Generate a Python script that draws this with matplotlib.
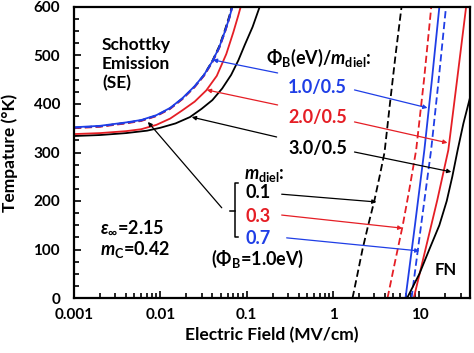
import matplotlib
matplotlib.use("Agg")
import matplotlib.pyplot as plt
import matplotlib.ticker as mticker
from matplotlib.lines import Line2D

W, H = 474, 353
BLUE = "#1f3ee6"
RED = "#e51e25"
BLACK = "#000000"

# Schottky emission branch (field in MV/cm, temperature in K)
SE_E_PHI1 = [0.001, 0.002, 0.004, 0.006, 0.009, 0.013, 0.018, 0.025, 0.032, 0.04, 0.048, 0.056, 0.063, 0.068]
SE_T_PHI1 = [352, 355, 362, 367, 377, 392, 412, 437, 460, 488, 517, 550, 578, 600]
SE_T_PHI1_M01 = [351, 354, 361, 366, 376, 391, 411, 436, 460, 489, 519, 553, 582, 605]
SE_T_PHI1_M03 = [350, 353, 360, 365, 375, 390, 410, 435, 458, 486, 515, 548, 577, 600]
SE_T_PHI1_M07 = [351, 354, 361, 366, 376, 391, 411, 436, 459, 487, 516, 549, 578, 601]

SE_E_PHI2 = [0.001, 0.002, 0.004, 0.006, 0.009, 0.013, 0.018, 0.025, 0.034, 0.045, 0.058, 0.07, 0.08, 0.085]
SE_T_PHI2 = [338, 340, 344, 348, 357, 370, 387, 405, 428, 458, 503, 548, 583, 600]

SE_E_PHI3 = [0.001, 0.002, 0.004, 0.007, 0.01, 0.015, 0.022, 0.03, 0.04, 0.052, 0.066, 0.08, 0.095, 0.117, 0.141]
SE_T_PHI3 = [334, 336, 340, 345, 351, 360, 373, 390, 408, 432, 460, 490, 522, 559, 600]

# Fowler-Nordheim branch
FN_T_M01 = [0, 50, 100, 150, 200, 250, 300, 400, 500, 600]
FN_E_M01 = [1.68, 1.92, 2.19, 2.55, 3.0, 3.45, 3.94, 4.55, 5.28, 6.2]
FN_T_M03 = [0, 75, 150, 225, 305, 450, 600]
FN_E_M03 = [4.27, 5.22, 6.41, 7.66, 9.16, 11.3, 13.7]
FN_T_M07 = [0, 150, 305, 450, 600]
FN_E_M07 = [8.1, 10.45, 13.65, 16.7, 20.3]
FN_T_PHI1 = [0, 150, 305, 450, 600]
FN_E_PHI1 = [6.9, 8.87, 11.4, 13.95, 17.0]
FN_T_PHI2 = [0, 99, 202, 305, 450, 600]
FN_E_PHI2 = [8.6, 11.7, 16.1, 21.6, 27.3, 34.7]
FN_T_PHI3 = [0, 50, 100, 150, 200, 250, 305, 360, 420]
FN_E_PHI3 = [7.2, 10.0, 13.0, 17.0, 20.7, 24.0, 27.7, 32.3, 39.4]

XTICKS = [0.001, 0.01, 0.1, 1, 10]
XTICK_LABELS = ["0.001", "0.01", "0.1", "1", "10"]
YTICKS = [0, 100, 200, 300, 400, 500, 600]

# arrows: (start, end) in data coordinates, colour
ARROWS = [
    ((0.228, 464), (0.0405, 491), BLUE),
    ((1.77, 429), (12.4, 392), BLUE),
    ((0.228, 398), (0.0345, 429), RED),
    ((1.77, 363), (21.1, 320), RED),
    ((0.222, 332), (0.0231, 373), BLACK),
    ((1.77, 301), (23.4, 260), BLACK),
    ((0.254, 214), (3.18, 198), BLACK),
    ((0.254, 171), (6.35, 144), RED),
    ((0.29, 124), (10.0, 97), BLUE),
    ((0.0514, 186), (0.00717, 363), BLACK),
]

plt.rcParams["font.family"] = ["Lato", "DejaVu Sans"]
plt.rcParams["font.weight"] = "bold"
plt.rcParams["mathtext.fontset"] = "custom"
plt.rcParams["mathtext.rm"] = "Lato:bold"
plt.rcParams["mathtext.it"] = "Lato:bold:italic"
plt.rcParams["mathtext.bf"] = "Lato:bold"


def fx(x):
    return x / W


def fy(y):
    return 1 - y / H


def ftext(x, y, s, **kw):
    kw.setdefault("fontsize", 13)
    kw.setdefault("fontweight", "bold")
    kw.setdefault("va", "center")
    fig.text(fx(x), fy(y), s, **kw)


fig = plt.figure(figsize=(W / 100, H / 100), dpi=100)
ax = fig.add_axes([fx(74), fy(298), (470 - 74) / W, (298 - 7) / H])

dash = (0, (4, 2))
lw = 1.3
# SE branches
ax.plot(SE_E_PHI3, SE_T_PHI3, color=BLACK, lw=lw)
ax.plot(SE_E_PHI2, SE_T_PHI2, color=RED, lw=lw)
ax.plot(SE_E_PHI1, SE_T_PHI1_M01, color=BLACK, lw=lw, ls=dash)
ax.plot(SE_E_PHI1, SE_T_PHI1_M03, color=RED, lw=lw, ls=dash)
ax.plot(SE_E_PHI1, SE_T_PHI1, color=BLUE, lw=lw)
ax.plot(SE_E_PHI1, SE_T_PHI1_M07, color=BLUE, lw=lw, ls=dash)
# FN branches
ax.plot(FN_E_M01, FN_T_M01, color=BLACK, lw=lw, ls=dash)
ax.plot(FN_E_M03, FN_T_M03, color=RED, lw=lw, ls=dash)
ax.plot(FN_E_PHI1, FN_T_PHI1, color=BLUE, lw=lw)
ax.plot(FN_E_M07, FN_T_M07, color=BLUE, lw=lw, ls=dash)
ax.plot(FN_E_PHI2, FN_T_PHI2, color=RED, lw=lw)
ax.plot(FN_E_PHI3, FN_T_PHI3, color=BLACK, lw=lw)

ax.set_xscale("log")
ax.set_xlim(0.001, 38.5)
ax.set_ylim(0, 600)
ax.set_xticks(XTICKS)
ax.set_xticklabels(XTICK_LABELS)
ax.xaxis.set_minor_locator(mticker.LogLocator(base=10, subs=range(2, 10)))
ax.xaxis.set_minor_formatter(mticker.NullFormatter())
ax.set_yticks(YTICKS)
ax.yaxis.set_minor_locator(mticker.MultipleLocator(25))
ax.tick_params(which="both", direction="in", width=1.2, labelsize=11)
ax.tick_params(which="major", length=5)
ax.tick_params(which="minor", length=3.5)
ax.tick_params(axis="x", pad=7)
ax.tick_params(axis="y", pad=10)
for sp in ax.spines.values():
    sp.set_linewidth(1.6)

ax.set_xlabel("Electric Field (MV/cm)", fontsize=12.5, fontweight="bold", labelpad=4)
ax.set_ylabel("Tempature (°K)", fontsize=12.5, fontweight="bold", labelpad=11)

for start, end, c in ARROWS:
    ax.annotate("", xy=end, xytext=start,
                arrowprops=dict(arrowstyle="-|>", color=c, lw=0.9,
                                mutation_scale=6, shrinkA=0, shrinkB=0))

# texts
ftext(102, 64, "Schottky\nEmission\n(SE)", fontsize=12.5, linespacing=1.2)
ftext(266, 58, r"$\Phi_{\mathrm{B}}$(eV)/$m_{\mathrm{diel}}$:")
ftext(288, 87, "1.0/0.5", color=BLUE)
ftext(288, 117, "2.0/0.5", color=RED)
ftext(288, 148, "3.0/0.5", color=BLACK)
ftext(244, 175, r"$m_{\mathrm{diel}}$:")
ftext(245, 193, "0.1", color=BLACK)
ftext(245, 216, "0.3", color=RED)
ftext(245, 238, "0.7", color=BLUE)
ftext(211, 259, r"($\Phi_{\mathrm{B}}$=1.0eV)")
ftext(100, 227, r"$\varepsilon_{\infty}$=2.15")
ftext(100, 250, r"$m_{\mathrm{C}}$=0.42")
ftext(435, 270, "FN", fontsize=12)

# bracket for m_diel group
bx = [238, 234.5, 234.5, 238]
by = [183, 183, 237, 237]
fig.add_artist(Line2D([fx(v) for v in bx], [fy(v) for v in by], color=BLACK, lw=1.1))
fig.add_artist(Line2D([fx(230), fx(234.5)], [fy(211), fy(211)], color=BLACK, lw=1.1))

fig.savefig("out.png", dpi=100)
